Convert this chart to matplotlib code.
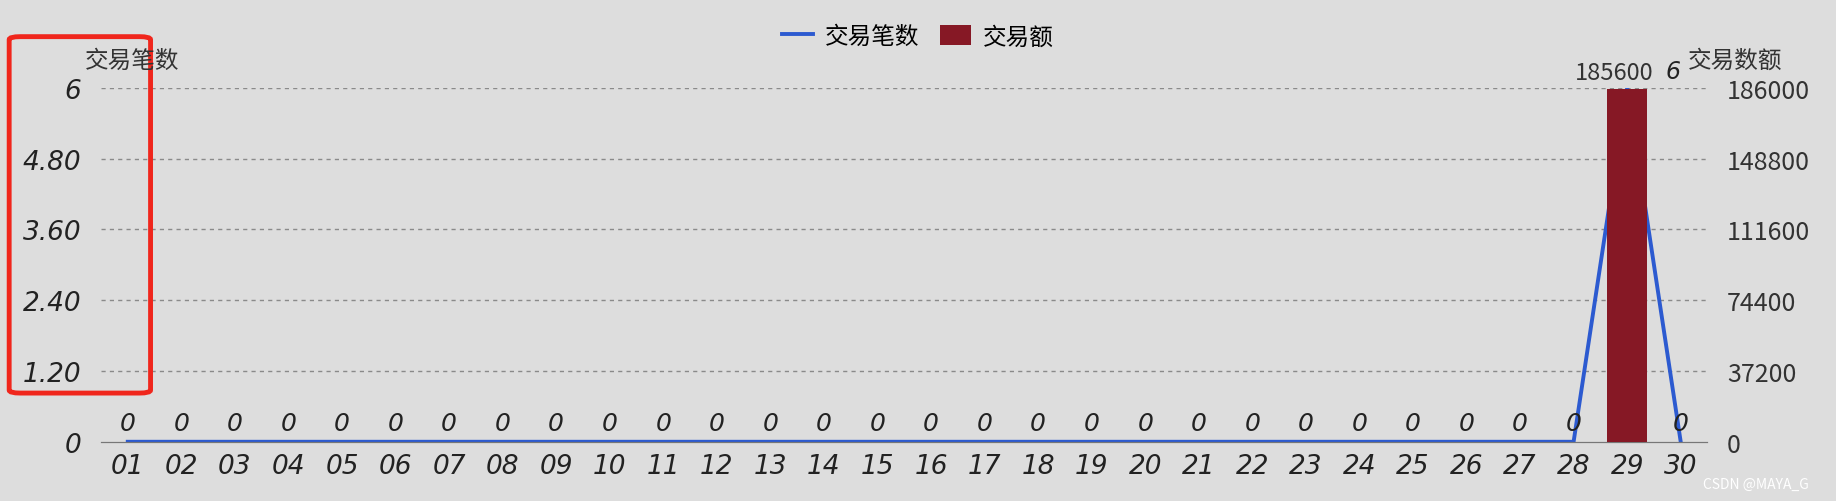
import matplotlib.pyplot as plt
from matplotlib.patches import FancyBboxPatch

plt.rcParams['font.family'] = ['Noto Sans CJK SC', 'DejaVu Sans']

days = ['%02d' % d for d in range(1, 31)]
counts = [0] * 28 + [6, 0]
amounts = [0] * 28 + [185600, 0]
left_ticks = [0, 1.2, 2.4, 3.6, 4.8, 6]
left_labels = ['0', '1.20', '2.40', '3.60', '4.80', '6']
right_ticks = [0, 37200, 74400, 111600, 148800, 186000]

BG = '#dddddd'
BLUE = '#2c5ad0'
RED = '#861825'
ITAL = ['DejaVu Sans']

fig = plt.figure(figsize=(18.36, 5.02), dpi=100, facecolor=BG)
ax1 = fig.add_axes([0.055, 0.118, 0.875, 0.705])
ax1.set_facecolor(BG)
ax2 = ax1.twinx()

x = list(range(len(days)))

# bars on right axis
ax2.bar(x, amounts, width=0.75, color=RED, zorder=3, label='交易额')
ax2.set_ylim(0, 186000)
ax2.set_yticks(right_ticks)
ax2.set_yticklabels([str(v) for v in right_ticks], fontsize=18, color='#333333')
ax2.tick_params(axis='y', length=0, pad=14)
for i, v in enumerate(amounts):
    if v > 0:
        ax2.text(i - 0.25, v + 2500, str(v), ha='center', va='bottom', fontsize=17, color='#333333')

# line on left axis
ax1.plot(x, counts, color=BLUE, lw=2.8, zorder=2, label='交易笔数')
ax1.set_ylim(0, 6)
ax1.set_xlim(-0.5, len(days) - 0.5)
ax1.set_yticks(left_ticks)
ax1.set_yticklabels(left_labels, fontsize=19, style='italic', family=ITAL, color='#222222')
ax1.set_xticks(x)
ax1.set_xticklabels(days, fontsize=19, style='italic', family=ITAL, color='#222222')
ax1.tick_params(axis='y', length=0, pad=14)
ax1.tick_params(axis='x', length=0, pad=8)
for i, v in enumerate(counts):
    if v > 0:
        ax1.text(i + 0.72, v + 0.08, str(v), ha='left', va='bottom', fontsize=17,
                 style='italic', family=ITAL, color='#222222')
    else:
        ax1.text(i, v + 0.12, str(v), ha='center', va='bottom', fontsize=18,
                 style='italic', family=ITAL, color='#222222')

# dashed split lines
for t in left_ticks[1:]:
    ax1.axhline(t, color='#8a8a8a', lw=1, ls=(0, (3, 3)), zorder=1)

for ax in (ax1, ax2):
    for s in ('top', 'right', 'left'):
        ax.spines[s].set_visible(False)
    ax.spines['bottom'].set_color('#777777')

# axis names
fig.text(0.072, 0.855, '交易笔数', fontsize=17, color='#333333', ha='center', va='bottom')
fig.text(0.945, 0.855, '交易数额', fontsize=17, color='#333333', ha='center', va='bottom')

# legend
h1, l1 = ax1.get_legend_handles_labels()
h2, l2 = ax2.get_legend_handles_labels()
fig.legend(h1 + h2, l1 + l2, loc='upper center', bbox_to_anchor=(0.5, 0.99), ncol=2,
           frameon=False, fontsize=17, handlelength=1.3, handleheight=0.9,
           columnspacing=0.9, handletextpad=0.5)

# red annotation box
box = FancyBboxPatch((0.005, 0.215), 0.077, 0.71, boxstyle='round,pad=0,rounding_size=0.006',
                     transform=fig.transFigure, fill=False, edgecolor='#f0261c', lw=3.5)
fig.patches.append(box)

fig.text(0.985, 0.02, 'CSDN @MAYA_G', fontsize=10, color='white', ha='right', va='bottom')

plt.savefig('out.png', dpi=100, facecolor=BG)
